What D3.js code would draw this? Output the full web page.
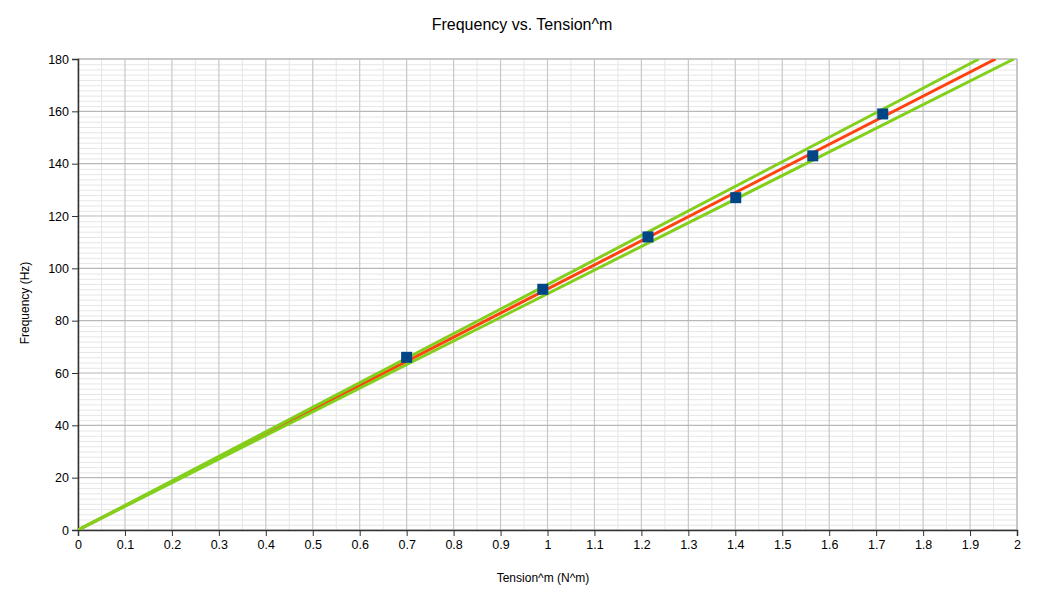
<!DOCTYPE html>
<html><head><meta charset="utf-8">
<script src="https://cdn.jsdelivr.net/npm/d3@7"></script>
<style>body{margin:0;background:#fff;}svg{display:block;font-family:"Liberation Sans",Arial,sans-serif;}</style>
</head><body>
<svg id="c" width="1047" height="594"></svg>
<script>
const tension = [0.70, 0.99, 1.214, 1.401, 1.565, 1.714];
const frequency = [66, 92, 112, 127, 143, 159];
const fitSlope = 92.1;
const upperSlope = 93.8;
const lowerSlope = 90.3;
const xTicks = [0,0.1,0.2,0.3,0.4,0.5,0.6,0.7,0.8,0.9,1,1.1,1.2,1.3,1.4,1.5,1.6,1.7,1.8,1.9,2];
const yTicks = [0,20,40,60,80,100,120,140,160,180];

const svg = d3.select("#c");
const L=78,R=1017,T=59,B=530;
const x = d3.scaleLinear().domain([0,2]).range([L,R]);
const y = d3.scaleLinear().domain([0,180]).range([B,T]);

// minor grid
const g = svg.append("g");
g.selectAll(".mx").data(d3.range(0,41).map(i=>i*0.05).filter((d,i)=>i%2===1)).join("line")
 .attr("x1",d=>x(d)).attr("x2",d=>x(d)).attr("y1",T).attr("y2",B).attr("stroke","#e6e6e6").attr("stroke-width",1);
g.selectAll(".my").data(d3.range(0,91).map(i=>i*2).filter(d=>d%20!==0)).join("line")
 .attr("y1",d=>y(d)+0.5).attr("y2",d=>y(d)+0.5).attr("x1",L).attr("x2",R).attr("stroke","#e6e6e6").attr("stroke-width",1);
// major grid
g.selectAll(".Mx").data(xTicks.slice(1)).join("line")
 .attr("x1",d=>x(d)).attr("x2",d=>x(d)).attr("y1",T).attr("y2",B).attr("stroke","#c8c8c8").attr("stroke-width",1.2);
g.selectAll(".My").data(yTicks.slice(1)).join("line")
 .attr("y1",d=>y(d)).attr("y2",d=>y(d)).attr("x1",L).attr("x2",R).attr("stroke","#b8b8b8").attr("stroke-width",1.2);
svg.append("rect").attr("x",L).attr("y",T).attr("width",R-L).attr("height",B-T).attr("fill","none").attr("stroke","#b3b3b3");

// axes
const ax = svg.append("g").attr("transform",`translate(0,${B})`)
 .call(d3.axisBottom(x).tickValues(xTicks).tickFormat(d=>d3.format("")(+d.toFixed(1))).tickSize(6).tickPadding(4));
const ay = svg.append("g").attr("transform",`translate(${L},0)`)
 .call(d3.axisLeft(y).tickValues(yTicks).tickSize(6).tickPadding(3));
[ax,ay].forEach(a=>{a.selectAll("path").attr("stroke","#333").attr("stroke-width",1.5);
 a.selectAll("line").attr("stroke","#333");
 a.selectAll("text").attr("font-size",12.5).attr("fill","#000").attr("font-family","Liberation Sans, Arial, sans-serif");});

// lines
svg.append("clipPath").attr("id","clip").append("rect").attr("x",L).attr("y",T).attr("width",R-L).attr("height",B-T);
const lg = svg.append("g").attr("clip-path","url(#clip)");
const line = d3.line().x(d=>x(d[0])).y(d=>y(d[1]));
function seg(s){const xe=Math.min(2,180/s);return [[0,0],[xe,s*xe]];}
[[fitSlope,"#ff420e"],[upperSlope,"#83d01c"],[lowerSlope,"#83d01c"]].forEach(([s,c])=>{
 lg.append("path").attr("d",line(seg(s))).attr("stroke",c).attr("stroke-width",3).attr("fill","none");
});

// points
svg.selectAll(".pt").data(tension.map((t,i)=>[t,frequency[i]])).join("rect")
 .attr("x",d=>x(d[0])-5.5).attr("y",d=>y(d[1])-5.5).attr("width",11).attr("height",11).attr("fill","#004586");

// titles
svg.append("text").attr("x",522).attr("y",30).attr("text-anchor","middle").attr("font-size",16).text("Frequency vs. Tension^m");
svg.append("text").attr("x",543).attr("y",582).attr("text-anchor","middle").attr("font-size",12).text("Tension^m (N^m)");
svg.append("text").attr("transform","translate(29,303) rotate(-90)").attr("text-anchor","middle").attr("font-size",12).text("Frequency (Hz)");
</script>
</body></html>
